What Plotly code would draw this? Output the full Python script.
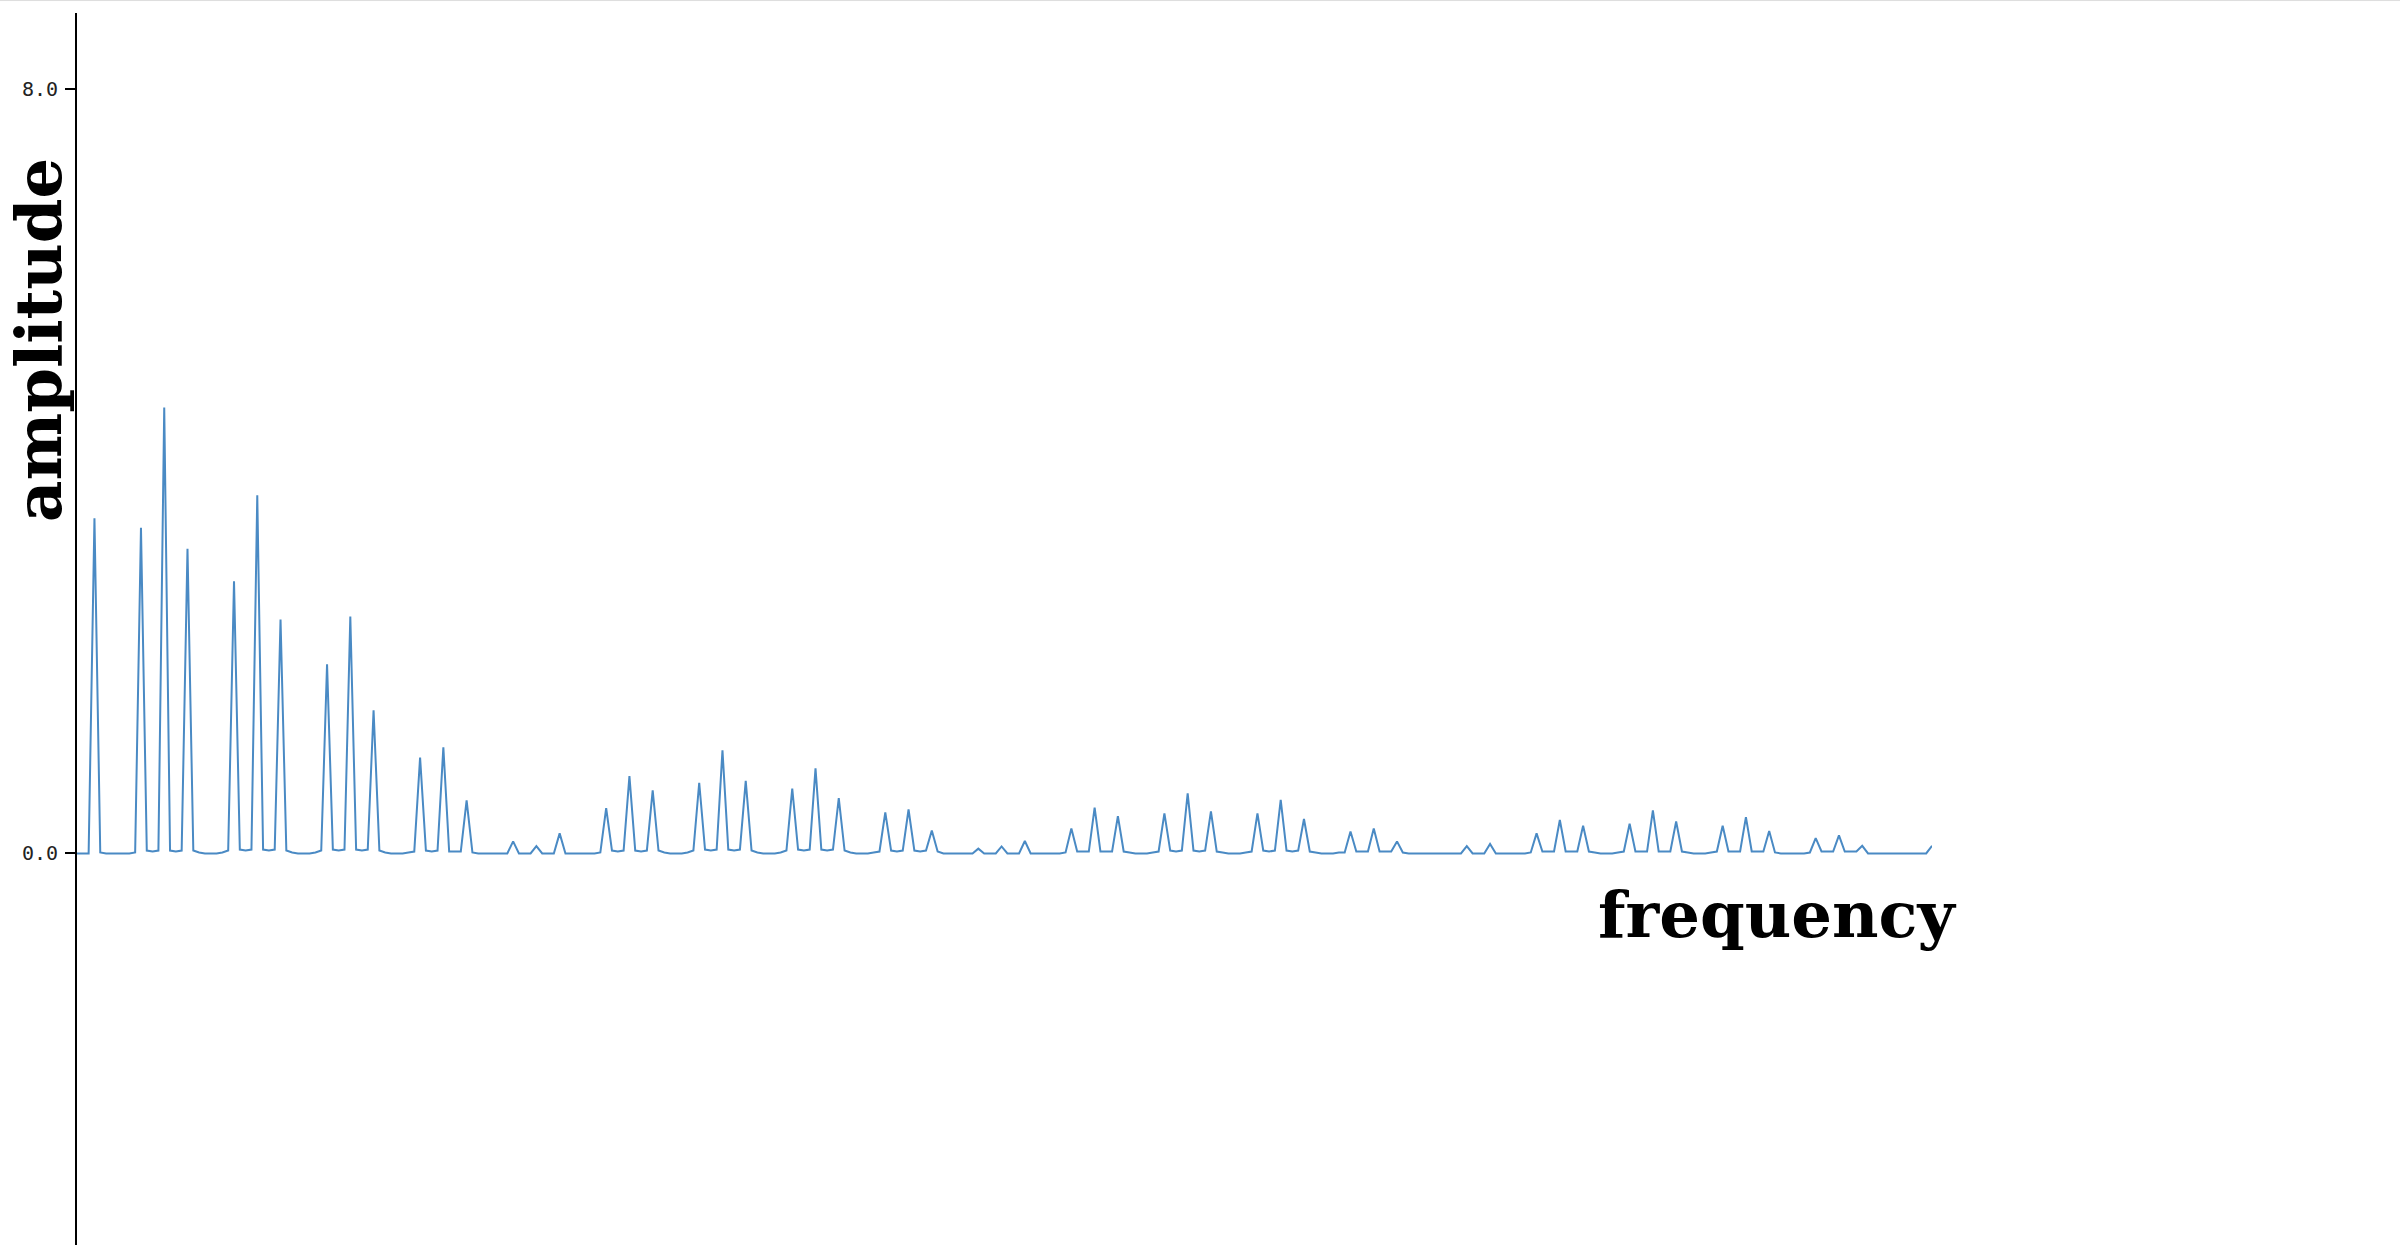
import plotly.graph_objects as go

# frequency bin index (320 bins)
freq_bins = list(range(320))

# amplitude per bin, 16 bins per row
amplitude = [
    0, 0, 0, 3.51, 0.01, 0, 0, 0, 0, 0, 0.01, 3.41, 0.03, 0.02, 0.03, 4.67,
    0.03, 0.02, 0.03, 3.19, 0.03, 0.01, 0, 0, 0, 0.01, 0.03, 2.85, 0.04, 0.03, 0.04, 3.75,
    0.04, 0.03, 0.04, 2.45, 0.03, 0.01, 0, 0, 0, 0.01, 0.03, 1.98, 0.04, 0.03, 0.04, 2.48,
    0.04, 0.03, 0.04, 1.50, 0.03, 0.01, 0, 0, 0, 0.01, 0.02, 1.005, 0.03, 0.02, 0.03, 1.11,
    0.02, 0.02, 0.02, 0.555, 0.01, 0, 0, 0, 0, 0, 0, 0.126, 0, 0, 0, 0.077,
    0, 0, 0, 0.21, 0, 0, 0, 0, 0, 0, 0.01, 0.475, 0.03, 0.02, 0.03, 0.81,
    0.03, 0.02, 0.03, 0.66, 0.03, 0.01, 0, 0, 0, 0.01, 0.03, 0.74, 0.04, 0.03, 0.04, 1.08,
    0.04, 0.03, 0.04, 0.76, 0.03, 0.01, 0, 0, 0, 0.01, 0.03, 0.68, 0.04, 0.03, 0.04, 0.89,
    0.04, 0.03, 0.04, 0.58, 0.03, 0.01, 0, 0, 0, 0.01, 0.02, 0.43, 0.03, 0.02, 0.03, 0.46,
    0.03, 0.02, 0.03, 0.24, 0.02, 0, 0, 0, 0, 0, 0, 0.05, 0, 0, 0, 0.073,
    0, 0, 0, 0.13, 0, 0, 0, 0, 0, 0, 0.01, 0.26, 0.02, 0.02, 0.02, 0.48,
    0.02, 0.02, 0.02, 0.39, 0.02, 0.01, 0, 0, 0, 0.01, 0.02, 0.42, 0.03, 0.02, 0.03, 0.63,
    0.03, 0.02, 0.03, 0.44, 0.02, 0.01, 0, 0, 0, 0.01, 0.02, 0.42, 0.03, 0.02, 0.03, 0.56,
    0.03, 0.02, 0.03, 0.36, 0.02, 0.01, 0, 0, 0, 0.01, 0.01, 0.23, 0.02, 0.02, 0.02, 0.26,
    0.02, 0.02, 0.02, 0.126, 0.01, 0, 0, 0, 0, 0, 0, 0, 0, 0, 0, 0.077,
    0, 0, 0, 0.10, 0, 0, 0, 0, 0, 0, 0.01, 0.21, 0.02, 0.02, 0.02, 0.35,
    0.02, 0.02, 0.02, 0.29, 0.02, 0.01, 0, 0, 0, 0.01, 0.02, 0.31, 0.02, 0.02, 0.02, 0.45,
    0.02, 0.02, 0.02, 0.335, 0.02, 0.01, 0, 0, 0, 0.01, 0.02, 0.29, 0.02, 0.02, 0.02, 0.38,
    0.02, 0.02, 0.02, 0.235, 0.01, 0, 0, 0, 0, 0, 0.01, 0.16, 0.02, 0.02, 0.02, 0.19,
    0.02, 0.02, 0.02, 0.08, 0, 0, 0, 0, 0, 0, 0, 0, 0, 0, 0, 0.08,
]

y_tick_values = [0, 8]
y_tick_labels = ["0.0", "8.0"]

fig = go.Figure()
fig.add_trace(go.Scatter(
    x=freq_bins, y=amplitude, mode="lines",
    line=dict(color="#4a8ac4", width=2),
    hoverinfo="skip", showlegend=False,
))

fig.update_layout(
    width=2400, height=1245,
    margin=dict(l=77, r=468, t=13, b=0),
    paper_bgcolor="white", plot_bgcolor="white",
    xaxis=dict(range=[0, 319], visible=False, fixedrange=True),
    yaxis=dict(
        range=[-4.10, 8.80],
        tickvals=y_tick_values, ticktext=y_tick_labels,
        showgrid=False, zeroline=False,
        showline=True, linecolor="black", linewidth=2,
        ticks="outside", ticklen=10, tickwidth=2, tickcolor="black",
        ticklabelstandoff=3,
        tickfont=dict(family="DejaVu Sans Mono", size=20, color="#222"),
        fixedrange=True,
    ),
    annotations=[
        dict(text="<b>frequency</b>", x=292.3, y=-0.635, xref="x", yref="y",
             xanchor="center", yanchor="middle", showarrow=False,
             font=dict(family="DejaVu Serif", size=64, color="black")),
        dict(text="<b>amplitude</b>", x=-0.0205, y=0.7346, xref="paper", yref="paper",
             xanchor="center", yanchor="middle", textangle=-90, showarrow=False,
             font=dict(family="DejaVu Serif", size=64, color="black")),
    ],
    shapes=[
        dict(type="line", xref="paper", yref="paper", x0=-0.05, x1=1.3,
             y0=1.0101, y1=1.0101, line=dict(color="#dddddd", width=1)),
    ],
)

fig.write_html("out.html", config={"displayModeBar": False},
               post_script="document.body.style.margin='0';")
